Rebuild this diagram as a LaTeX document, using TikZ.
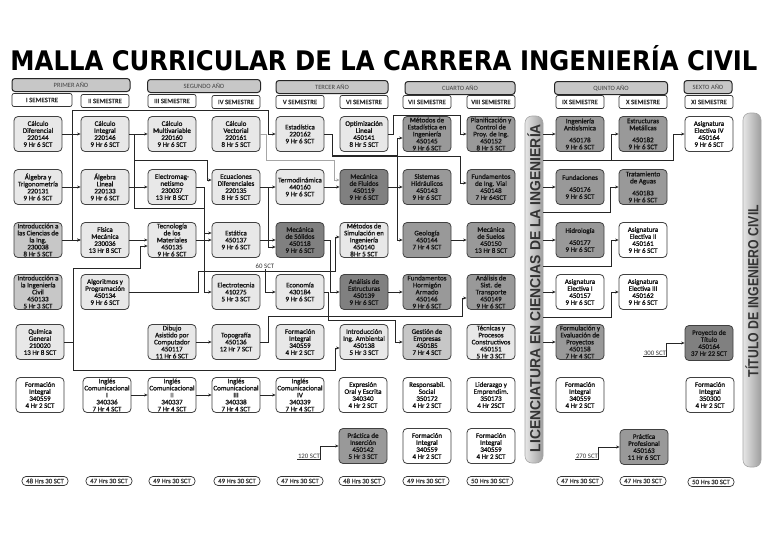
\documentclass[tikz,border=0pt]{standalone}
\usepackage{fontspec}
\setmainfont{Carlito}[AutoFakeBold=1.6]
\newfontfamily\dejavu{DejaVu Sans}
\newfontfamily\arialf{Liberation Sans}
\usetikzlibrary{arrows.meta,calc}
\begin{document}
\begin{tikzpicture}[x=1pt,y=-1pt,
  crs/.style={draw=black!75, line width=0.8pt, rounded corners=4pt, minimum width=48pt, minimum height=35pt, inner sep=0pt, align=center, text=black!90, font=\fontsize{7}{7}\selectfont\bfseries},
  lt/.style={crs, fill=black!9},
  wt/.style={crs, fill=white},
  mg/.style={crs, fill=black!22},
  dg/.style={crs, fill=black!40},
  xg/.style={crs, fill=black!50},
  yr/.style={draw=black!85, line width=1pt, fill=black!22, rounded corners=3pt, minimum height=13pt, inner sep=0pt, font=\fontsize{6.5}{6.5}\selectfont, text=black!75},
  sem/.style={draw=black!80, line width=0.7pt, fill=white, rounded corners=2pt, minimum width=48pt, minimum height=13pt, inner sep=0pt, font=\fontsize{6.8}{6.8}\selectfont\bfseries, text=black!80},
  tot/.style={draw=black!80, line width=0.7pt, fill=white, rounded corners=4pt, minimum width=46pt, minimum height=9pt, inner sep=0pt, font=\fontsize{6.8}{6.8}\selectfont\bfseries, text=black!75},
  cn/.style={draw=black!85, line width=0.7pt, -{Stealth[length=3.5pt,width=3pt]}},
  gcn/.style={cn, draw=black!35},
  pl/.style={draw=black!85, line width=0.7pt},
  lbl/.style={font=\fontsize{6.8}{7}\selectfont, text=black!80, inner sep=0.5pt},
  barbox/.style={draw=black!35, line width=0.6pt, rounded corners=7pt, minimum width=18pt, inner sep=0pt, left color=black!10, right color=black!38}
]
\useasboundingbox (0,0) rectangle (768,543);
\fill[white] (0,0) rectangle (768,543);

% title
\node[inner sep=0pt] (title) at (384,58) {\resizebox{747pt}{25pt}{\dejavu\bfseries MALLA CURRICULAR DE LA CARRERA INGENIERÍA CIVIL}};

% years
\node[yr, minimum width=118pt] (y1) at (71,85) {PRIMER AÑO};
\node[yr, minimum width=113pt] (y2) at (204,86) {SEGUNDO AÑO};
\node[yr, minimum width=112pt] (y3) at (332,87) {TERCER AÑO};
\node[yr, minimum width=110pt] (y4) at (460,88) {CUARTO AÑO};
\node[yr, minimum width=113pt] (y5) at (611,88) {QUINTO AÑO};
\node[yr, minimum width=48pt] (y6) at (708,87) {SEXTO AÑO};

% semesters
\node[sem, minimum width=60pt] (s1) at (42,100) {I SEMESTRE};
\node[sem] (s2) at (105,101) {II SEMESTRE};
\node[sem] (s3) at (172,101) {III SEMESTRE};
\node[sem] (s4) at (236,102) {IV SEMESTRE};
\node[sem] (s5) at (300,102) {V SEMESTRE};
\node[sem] (s6) at (364,102) {VI SEMESTRE};
\node[sem] (s7) at (427,102) {VII SEMESTRE};
\node[sem] (s8) at (491,102) {VIII SEMESTRE};
\node[sem] (s9) at (580,102) {IX SEMESTRE};
\node[sem] (s10) at (643,102) {X SEMESTRE};
\node[sem] (s11) at (709,102) {XI SEMESTRE};

% row 1
\node[lt] (cdif) at (38,134) {Cálculo\\Diferencial\\220144\\9 Hr 6 SCT};
\node[lt] (cint) at (105,134) {Cálculo\\Integral\\220146\\9 Hr 6 SCT};
\node[lt] (cmul) at (172,134) {Cálculo\\Multivariable\\220160\\9 Hr 6 SCT};
\node[lt] (cvec) at (236,134) {Cálculo\\Vectorial\\220161\\8 Hr 5 SCT};
\node[lt] (estd) at (300,134) {Estadística\\220162\\9 Hr 6 SCT};
\node[lt] (opti) at (364,134) {Optimización\\Lineal\\450141\\8 Hr 5 SCT};
\node[dg] (mest) at (427,134) {Métodos de\\Estadística en\\Ingeniería\\450145\\9 Hr 6 SCT};
\node[dg] (plan) at (491,134) {Planificación y\\Control de\\Proy. de Ing.\\450152\\8 Hr 5 SCT};
\node[dg] (anti) at (580,134) {Ingeniería\\Antisísmica\\[5pt]450178\\9 Hr 6 SCT};
\node[dg] (emet) at (643,134) {Estructuras\\Metálicas\\[5pt]450182\\9 Hr 6 SCT};
\node[wt] (el4) at (709,134) {Asignatura\\Electiva IV\\450164\\9 Hr 6 SCT};

% row 2
\node[lt] (algt) at (38,187) {Álgebra y\\Trigonometría\\220131\\9 Hr 6 SCT};
\node[lt] (alin) at (105,187) {Álgebra\\Lineal\\220133\\9 Hr 6 SCT};
\node[lt] (emag) at (172,187) {Electromag-\\netismo\\230037\\13 Hr 8 SCT};
\node[lt] (ecua) at (236,187) {Ecuaciones\\Diferenciales\\220135\\8 Hr 5 SCT};
\node[lt] (term) at (300,187) {Termodinámica\\440160\\9 Hr 6 SCT};
\node[xg] (mflu) at (364,187) {Mecánica\\de Fluidos\\450119\\9 Hr 6 SCT};
\node[dg] (shid) at (427,187) {Sistemas\\Hidráulicos\\450143\\9 Hr 6 SCT};
\node[dg] (fvia) at (491,187) {Fundamentos\\de Ing. Vial\\450148\\7 Hr 64SCT};
\node[dg] (fund) at (580,187) {Fundaciones\\[5pt]450176\\9 Hr 6 SCT};
\node[dg] (trat) at (643,187) {Tratamiento\\de Aguas\\[5pt]450183\\9 Hr 6 SCT};

% row 3
\node[mg] (icie) at (38,240) {Introducción a\\las Ciencias de\\la Ing.\\230038\\8 Hr 5 SCT};
\node[lt] (fisi) at (105,240) {Física\\Mecánica\\230036\\13 Hr 8 SCT};
\node[lt] (tmat) at (172,240) {Tecnología\\de los\\Materiales\\450135\\9 Hr 6 SCT};
\node[lt] (esta) at (236,240) {Estática\\450137\\9 Hr 6 SCT};
\node[xg] (msol) at (300,240) {Mecánica\\de Sólidos\\450118\\9 Hr 6 SCT};
\node[lt] (msim) at (364,240) {Métodos de\\Simulación en\\Ingeniería\\450140\\8Hr 5 SCT};
\node[dg] (geol) at (427,240) {Geología\\450144\\7 Hr 4 SCT};
\node[dg] (msue) at (491,240) {Mecánica\\de Suelos\\450150\\13 Hr 8 SCT};
\node[dg] (hidr) at (580,240) {Hidrología\\[5pt]450177\\9 Hr 6 SCT};
\node[wt] (el2) at (643,240) {Asignatura\\Electiva II\\450161\\9 Hr 6 SCT};

% row 4
\node[mg] (iciv) at (38,292) {Introducción a\\la Ingeniería\\Civil\\450133\\5 Hr 3 SCT};
\node[lt] (algo) at (105,292) {Algoritmos y\\Programación\\450134\\9 Hr 6 SCT};
\node[lt] (elec) at (236,292) {Electrotecnia\\410275\\5 Hr 3 SCT};
\node[lt] (econ) at (300,292) {Economía\\430184\\9 Hr 6 SCT};
\node[xg] (aest) at (364,292) {Análisis de\\Estructuras\\450139\\9 Hr 6 SCT};
\node[dg] (fhor) at (427,292) {Fundamentos\\Hormigón\\Armado\\450146\\9 Hr 6 SCT};
\node[dg] (atra) at (491,292) {Análisis de\\Sist. de\\Transporte\\450149\\9 Hr 6 SCT};
\node[wt] (el1) at (580,292) {Asignatura\\Electiva I\\450157\\9 Hr 6 SCT};
\node[wt] (el3) at (643,292) {Asignatura\\Electiva III\\450162\\9 Hr 6 SCT};

% row 5
\node[lt] (quim) at (40,342) {Química\\General\\210020\\13 Hr 8 SCT};
\node[lt] (dibu) at (172,342) {Dibujo\\Asistido por\\Computador\\450117\\11 Hr 6 SCT};
\node[lt] (topo) at (236,342) {Topografía\\450136\\12 Hr 7 SCT};
\node[lt] (fi5) at (300,342) {Formación\\Integral\\340559\\4 Hr 2 SCT};
\node[lt] (iamb) at (364,342) {Introducción\\Ing. Ambiental\\450138\\5 Hr 3 SCT};
\node[mg] (gemp) at (427,342) {Gestión de\\Empresas\\450185\\7 Hr 4 SCT};
\node[lt] (tecp) at (491,342) {Técnicas y\\Procesos\\Constructivos\\450151\\5 Hr 3 SCT};
\node[dg] (form) at (580,342) {Formulación y\\Evaluación de\\Proyectos\\450158\\7 Hr 4 SCT};
\node[xg] (ptit) at (709,343) {Proyecto de\\Título\\450164\\37 Hr 22 SCT};

% row 6
\node[wt] (fi1) at (40,395) {Formación\\Integral\\340559\\4 Hr 2 SCT};
\node[wt] (ing1) at (107,395) {Inglés\\Comunicacional\\I\\340336\\7 Hr 4 SCT};
\node[wt] (ing2) at (172,395) {Inglés\\Comunicacional\\II\\340337\\7 Hr 4 SCT};
\node[wt] (ing3) at (236,395) {Inglés\\Comunicacional\\III\\340338\\7 Hr 4 SCT};
\node[wt] (ing4) at (300,395) {Inglés\\Comunicacional\\IV\\340339\\7 Hr 4 SCT};
\node[wt] (expr) at (363,395) {Expresión\\Oral y Escrita\\340340\\4 Hr 2 SCT};
\node[wt] (resp) at (427,395) {Responsabil.\\Social\\350172\\4 Hr 2 SCT};
\node[wt] (lide) at (491,395) {Liderazgo y\\Emprendim.\\350173\\4 Hr 2SCT};
\node[wt] (fi9) at (580,395) {Formación\\Integral\\340559\\4 Hr 2 SCT};
\node[wt] (fi11) at (710,395) {Formación\\Integral\\350300\\4 Hr 2 SCT};

% row 7
\node[dg] (pins) at (363,446) {Práctica de\\Inserción\\450142\\5 Hr 3 SCT};
\node[wt] (fi7) at (427,446) {Formación\\Integral\\340559\\4 Hr 2 SCT};
\node[wt] (fi8) at (491,446) {Formación\\Integral\\340559\\4 Hr 2 SCT};
\node[dg] (ppro) at (644,447) {Práctica\\Profesional\\450163\\11 Hr 6 SCT};

% totals
\node[tot] (t1) at (45,481) {48 Hrs 30 SCT};
\node[tot] (t2) at (109,481) {47 Hrs 30 SCT};
\node[tot] (t3) at (172,481) {49 Hrs 30 SCT};
\node[tot] (t4) at (237,481) {49 Hrs 30 SCT};
\node[tot] (t5) at (300,481) {47 Hrs 30 SCT};
\node[tot] (t6) at (362,481) {48 Hrs 30 SCT};
\node[tot] (t7) at (426,481) {49 Hrs 30 SCT};
\node[tot] (t8) at (490,481) {50 Hrs 30 SCT};
\node[tot] (t9) at (580,481) {47 Hrs 30 SCT};
\node[tot] (t10) at (643,481) {47 Hrs 30 SCT};
\node[tot] (t11) at (711,482) {50 Hrs 30 SCT};

% vertical bars
\node[barbox, minimum height=347pt] (licb) at (534,289.5) {};
\node[rotate=90, inner sep=0pt, text=black!80] (lict) at (534,288) {\resizebox{328pt}{13pt}{\arialf\bfseries LICENCIATURA EN CIENCIAS DE LA INGENIERÍA}};
\node[barbox, minimum height=354pt] (titb) at (752,290) {};
\node[rotate=90, inner sep=0pt, text=black!80] (titt) at (752,291) {\resizebox{172pt}{13pt}{\arialf\bfseries TÍTULO DE INGENIERO CIVIL}};

% labels
\node[lbl] (l60) at (265,266) {60 SCT};
\node[lbl] (l120) at (309,456) {120 SCT};
\node[lbl] (l270) at (587,456) {270 SCT};
\node[lbl] (l300) at (655,353) {300 SCT};

% connectors
\draw[cn] (cdif) -- (cint);
\draw[cn] (cint) -- (cmul);
\draw[cn] (cint.east) -- (134,134) |- (207,160) |- ([yshift=7pt]ecua.west);
\draw[cn] (cint.east) -- (134,134) |- (204,208) |- ([yshift=7pt]esta.west);
\draw[cn] (algt) -- (alin);
\draw[cn] (alin) -- (emag);
\draw[cn] (algt.east) -- (72,187) |- (268,110) |- (estd.west);
\draw[cn] (algt.east) -- (72,187) |- (fisi.west);
\draw[cn] (icie) -- (fisi);
\draw[cn] (fisi) -- (tmat);
\draw[cn] (quim.east) -- (73,342) |- (140,268) |- ([yshift=-6pt]tmat.west);
\draw[cn] (quim.east) -- (73,342) |- (335,370) |- ([yshift=-6pt]iamb.west);
\draw[cn] (tmat) -- (esta);
\draw[cn] (emag.east) -- (204,187) |- (elec.west);
\draw[cn] (esta) -- (msol);
\draw[cn] (ecua) -- (term);
\draw[cn] (ecua.east) -- (268,187) |- ([yshift=-7pt]msol.west);
\draw[cn] (term) -- (mflu);
\draw[cn] (mflu) -- (shid);
\draw[cn] (estd.east) -- (332,134) |- (397,155) |- ([yshift=-4pt]mest.west);
\draw[cn] (estd.east) -- (332,134) |- (397,155) |- (geol.west);
\draw[cn] (estd.east) -- (332,134) |- (460,156) |- ([yshift=4pt]fvia.west);
\draw[cn] (opti.east) -- (393,134) |- (460,115) |- (plan.west);
\draw[gcn] (cvec.east) -- (266,134) |- (334,160) |- ([yshift=7pt]mflu.west);
\draw[cn] (msol.east) -- (330,240) |- (aest.west);
\draw[cn] (algo.east) -- (198,292) |- (335,271) |- ([yshift=3pt]msim.west);
\draw[cn] (l60.south) |- (econ.west);
\draw[cn] (econ.east) -- (328,292) |- (395,320) |- (gemp.west);
\draw[cn] (topo.east) -- (268,342) |- (462,316) |- ([yshift=-6pt]atra.west);
\draw[cn] (dibu) -- (topo);
\draw[cn] (aest) -- (fhor);
\draw[cn] (geol) -- (msue);
\draw[cn] (ing1) -- (ing2);
\draw[cn] (ing2) -- (ing3);
\draw[cn] (ing3) -- (ing4);

\draw[cn] (licb.east |- anti.west) -- (anti.west);
\draw[cn] (licb.east |- fund.west) -- (fund.west);
\draw[cn] (licb.east |- hidr.west) -- (hidr.west);
\draw[cn] (licb.east |- el1.west) -- (el1.west);
\draw[cn] (licb.east |- form.west) -- (form.west);
\draw[cn] (licb.east |- 0,160) -- (611,160) |- (emet.west);
\draw[cn] (611,160) -- (673,160) |- (el4.west);
\draw[cn] (licb.east |- 0,212) -- (610,212) |- (trat.west);
\draw[cn] (licb.east |- 0,266) -- (611,266) |- (el2.west);
\draw[cn] (licb.east |- 0,317) -- (611,317) |- (el3.west);

\draw[pl] (l120.south west) -- (l120.south east);
\draw[cn] (l120.south east) |- (pins.west);
\draw[pl] (l270.south west) -- (l270.south east);
\draw[cn] (l270.south east) |- (ppro.west);
\draw[pl] (l300.south west) -- (l300.south east);
\draw[cn] (l300.south east) |- (ptit.west);
\end{tikzpicture}
\end{document}
